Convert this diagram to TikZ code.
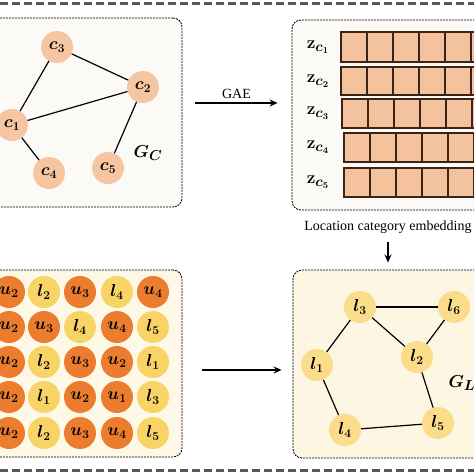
\documentclass[tikz,border=0pt]{standalone}
\usepackage{fontspec}
\setmainfont{Liberation Serif}
\usetikzlibrary{arrows.meta}
\definecolor{peach}{HTML}{F6C6A3}
\definecolor{cellfill}{HTML}{F5C29E}
\definecolor{celledge}{HTML}{3B2316}
\definecolor{uorange}{HTML}{EC7D2E}
\definecolor{lyellow}{HTML}{F8D466}
\definecolor{lpale}{HTML}{FADC8A}
\definecolor{panelC}{HTML}{FCFAF6}
\definecolor{panelU}{HTML}{FEF8E6}
\definecolor{panelL}{HTML}{FDF6E2}

\tikzset{
  panel/.style={draw=black, dash pattern=on 2pt off 1pt, line width=0.8pt, rounded corners=9pt, inner sep=0pt},
  cnode/.style={circle, fill=peach, minimum size=32pt, inner sep=0pt, font=\fontsize{17}{17}\selectfont\boldmath},
  unode/.style={cnode, fill=uorange},
  lnode/.style={cnode, fill=lyellow},
  gnode/.style={cnode, fill=lpale},
  link/.style={line width=1.2pt},
  arr/.style={line width=1.3pt, -{Stealth[length=8pt,width=7pt]}},
  cell/.style={draw=celledge, fill=cellfill, line width=1.6pt},
  zlab/.style={font=\fontsize{19}{19}\selectfont\boldmath},
}

\begin{document}
\begin{tikzpicture}[x=1pt,y=-1pt]
\useasboundingbox (0,0) rectangle (474,474);

% outer separators
\draw[black!65, line width=3pt, dash pattern=on 8pt off 4pt] (0,3) -- (474,3);
\draw[black!65, line width=3pt, dash pattern=on 8pt off 4pt] (0,470) -- (474,470);

% panels
\node[panel, fill=panelC, minimum width=192pt, minimum height=189pt] (boxC) at (86,112.5) {};
\node[panel, fill=panelC, minimum width=198pt, minimum height=190pt] (boxZ) at (391,115) {};
\node[panel, fill=panelU, minimum width=192pt, minimum height=187pt] (boxU) at (86,363.5) {};
\node[panel, fill=panelL, minimum width=197pt, minimum height=188pt] (boxL) at (391.5,364) {};

% category graph G_C
\node[cnode] (c1) at (12,125) {$c_1$};
\node[cnode] (c2) at (143,87) {$c_2$};
\node[cnode] (c3) at (57,47) {$c_3$};
\node[cnode] (c4) at (49,173) {$c_4$};
\node[cnode] (c5) at (108,168) {$c_5$};
\draw[link] (c1) -- (c3);
\draw[link] (c3) -- (c2);
\draw[link] (c1) -- (c2);
\draw[link] (c1) -- (c4);
\draw[link] (c2) -- (c5);
\node[zlab] (gc) at (148,153) {$G_C$};

% embeddings
\foreach \i in {0,...,5} \draw[cell] (341+26*\i,32) rectangle ++(26,30);
\foreach \i in {0,...,5} \draw[cell] (341+26*\i,67) rectangle ++(26,28);
\foreach \i in {0,...,5} \draw[cell] (342+26*\i,99) rectangle ++(26,29);
\foreach \i in {0,...,5} \draw[cell] (344+26*\i,133) rectangle ++(26,29);
\foreach \i in {0,...,5} \draw[cell] (344+26*\i,168) rectangle ++(26,29);
\node[zlab] (z1) at (318,47) {$\mathbf{z}_{c_1}$};
\node[zlab] (z2) at (318,81) {$\mathbf{z}_{c_2}$};
\node[zlab] (z3) at (318,113) {$\mathbf{z}_{c_3}$};
\node[zlab] (z4) at (318,147) {$\mathbf{z}_{c_4}$};
\node[zlab] (z5) at (318,182) {$\mathbf{z}_{c_5}$};

\draw[arr] ([xshift=13pt,yshift=9.5pt]boxC.east) -- node[above, font=\fontsize{14}{14}\selectfont] (gae) {GAE} ([xshift=-14pt,yshift=12pt]boxZ.west);

\node[font=\fontsize{14}{14}\selectfont] (lce) at (388,227) {Location category embedding};
\draw[arr, shorten <=5pt, shorten >=7pt] (lce) -- (lce |- boxL.north);

% user / location grid
\node[unode] (g11) at (9,292) {$u_2$};  \node[lnode] (g12) at (44,292) {$l_2$};
\node[unode] (g13) at (80,292) {$u_3$}; \node[lnode] (g14) at (117,292) {$l_4$};
\node[unode] (g15) at (153,292) {$u_4$};
\node[unode] (g21) at (9,327) {$u_2$};  \node[unode] (g22) at (44,327) {$u_3$};
\node[lnode] (g23) at (80,327) {$l_4$}; \node[unode] (g24) at (117,327) {$u_4$};
\node[lnode] (g25) at (153,327) {$l_5$};
\node[unode] (g31) at (9,362) {$u_2$};  \node[lnode] (g32) at (44,362) {$l_2$};
\node[unode] (g33) at (80,362) {$u_3$}; \node[unode] (g34) at (117,362) {$u_2$};
\node[lnode] (g35) at (153,362) {$l_1$};
\node[unode] (g41) at (9,397) {$u_2$};  \node[lnode] (g42) at (44,397) {$l_1$};
\node[unode] (g43) at (80,397) {$u_2$}; \node[unode] (g44) at (117,397) {$u_1$};
\node[lnode] (g45) at (153,397) {$l_3$};
\node[unode] (g51) at (9,433) {$u_2$};  \node[lnode] (g52) at (44,433) {$l_2$};
\node[unode] (g53) at (80,433) {$u_3$}; \node[unode] (g54) at (117,433) {$u_4$};
\node[lnode] (g55) at (153,433) {$l_5$};

\draw[arr] ([xshift=20pt,yshift=-6.5pt]boxU.east) -- ([xshift=-11pt,yshift=-6pt]boxL.west);

% location graph G_L
\node[gnode] (l1) at (317,365) {$l_1$};
\node[gnode] (l2) at (417,357) {$l_2$};
\node[gnode] (l3) at (360,307) {$l_3$};
\node[gnode] (l4) at (345,430) {$l_4$};
\node[gnode] (l5) at (438,423) {$l_5$};
\node[gnode] (l6) at (454,307) {$l_6$};
\draw[link] (l3) -- (l6);
\draw[link] (l3) -- (l1);
\draw[link] (l3) -- (l2);
\draw[link] (l6) -- (l2);
\draw[link] (l1) -- (l4);
\draw[link] (l4) -- (l5);
\draw[link] (l5) -- (l2);
\node[zlab] (gl) at (462,383) {$G_L$};

\end{tikzpicture}
\end{document}
